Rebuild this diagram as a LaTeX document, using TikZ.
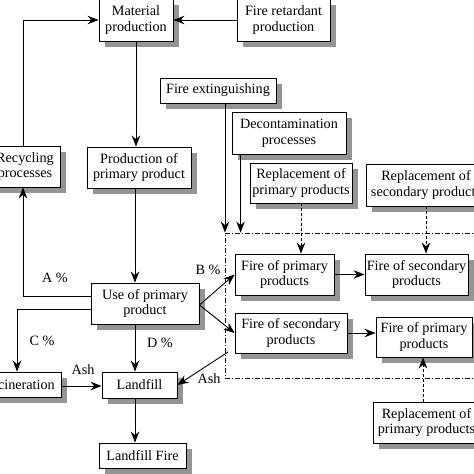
\documentclass[tikz,border=0pt]{standalone}
\usepackage{fontspec}
\setmainfont{Liberation Serif}
\usetikzlibrary{shadows,arrows.meta,calc}
\begin{document}
\begin{tikzpicture}[x=1pt,y=-1pt,
 box/.style={draw, line width=0.9pt, fill=white, align=center, inner sep=0pt,
   drop shadow={shadow xshift=6pt, shadow yshift=-6pt, fill=black!42, opacity=1},
   font=\fontsize{14.2}{15.8}\selectfont},
 arr/.style={line width=0.9pt, -{Stealth[length=11pt,width=8.5pt]}},
 dasharr/.style={arr, dash pattern=on 3pt off 2pt},
 lbl/.style={font=\fontsize{14.2}{15.8}\selectfont, inner sep=0pt},
 grpbox/.style={draw, line width=0.8pt, dash pattern=on 5pt off 2pt on 1pt off 2pt, inner sep=0pt}]
\useasboundingbox (0,0) rectangle (474,474);
\clip (0,0) rectangle (474,474);
% group region
\node[grpbox, minimum width=265pt, minimum height=145pt] (grp) at (357.5,305.5) {};
% boxes
\node[box, minimum width=74pt, minimum height=42pt] (mat) at (136,20) {Material\\production};
\node[box, minimum width=93pt, minimum height=42pt] (fr) at (283.5,20) {Fire retardant\\production};
\node[box, minimum width=116pt, minimum height=25pt] (fe) at (218,90.5) {Fire extinguishing};
\node[box, minimum width=114pt, minimum height=42pt] (dc) at (289,133) {Decontamination\\processes};
\node[box, minimum width=70pt, minimum height=41pt] (rec) at (25,166.5) {Recycling\\processes};
\node[box, minimum width=104pt, minimum height=41pt] (prod) at (139,167.5) {Production of\\primary product};
\node[box, minimum width=108pt, minimum height=41pt] (use) at (145,303.5) {Use of primary\\product};
\node[box, minimum width=81pt, minimum height=25pt] (inc) at (20.5,384.5) {Incineration};
\node[box, minimum width=75pt, minimum height=26pt] (lf) at (139.5,385) {Landfill};
\node[box, minimum width=87pt, minimum height=25pt] (lff) at (142.5,455.5) {Landfill Fire};
\node[box, minimum width=102pt, minimum height=40pt] (rp1) at (301,183) {Replacement of\\primary products};
\node[box, minimum width=120pt, minimum height=42pt] (rs1) at (426,185) {Replacement of\\secondary products};
\node[box, minimum width=99pt, minimum height=41pt] (fp1) at (284.5,274.5) {Fire of primary\\products};
\node[box, minimum width=103pt, minimum height=41pt] (fs1) at (416.5,274.5) {Fire of secondary\\products};
\node[box, minimum width=112pt, minimum height=40pt] (fs2) at (291,333) {Fire of secondary\\products};
\node[box, minimum width=96pt, minimum height=40pt] (fp2) at (424,337) {Fire of primary\\products};
\node[box, minimum width=107pt, minimum height=41pt] (rp2) at (426.5,422.5) {Replacement of\\primary products};
% connectors
\draw[arr] (fr.west) -- (mat.east);
\draw[arr] ($(rec.north)+(-2,0)$) |- (mat.west);
\draw[arr] (mat.south) -- (mat.south |- prod.north);
\coordinate (pd) at ($(prod.south)+(-4,0)$);
\draw[arr] (pd) -- (pd |- use.north);
\coordinate (ua) at ($(use.west)+(0,-7)$);
\draw[arr] (ua) -| ($(rec.south)+(-2,0)$);
\coordinate (uc) at ($(use.west)+(0,5.5)$);
\draw[arr] (uc) -| ($(inc.north)+(-3.5,0)$);
\coordinate (ud) at ($(use.south)+(-10,0)$);
\draw[arr] (ud) -- (ud |- lf.north);
\draw[arr] (inc.east |- 0,386) -- (lf.west |- 0,386);
\draw[arr] (lf.south -| ud) -- (ud |- lff.north);
\coordinate (ub) at ($(use.east)+(0,1.5)$);
\draw[arr] (ub) -- (fp1.west);
\draw[arr] (ub) -- (fs2.west);
\coordinate (ashs) at (228,352);
\draw[arr] (ashs) -- (lf.east);
\coordinate (fed) at ($(fe.south)+(7,0)$);
\draw[arr] (fed) -- (fed |- grp.north);
\coordinate (dcd) at ($(dc.south west)+(9,0)$);
\draw[arr] (dcd) -- (dcd |- grp.north);
\draw[dasharr] (rp1.south) -- (rp1.south |- fp1.north);
\draw[dasharr] (rs1.south) -- (rs1.south |- fs1.north);
\draw[arr] (fp1.east) -- (fs1.west);
\draw[arr] (fs2.east) -- (fs2.east -| fp2.west);
\coordinate (rpu) at ($(rp2.north)+(-3.5,0)$);
\draw[dasharr] (rpu) -- (rpu |- fp2.south);
% labels
\node[lbl] (la) at (55,278) {A \%};
\node[lbl] (lb) at (208,270) {B \%};
\node[lbl] (lc) at (42,341) {C \%};
\node[lbl] (ld) at (160,343) {D \%};
\node[lbl] (lash1) at (83,370) {Ash};
\node[lbl] (lash2) at (209,379) {Ash};
\end{tikzpicture}
\end{document}
